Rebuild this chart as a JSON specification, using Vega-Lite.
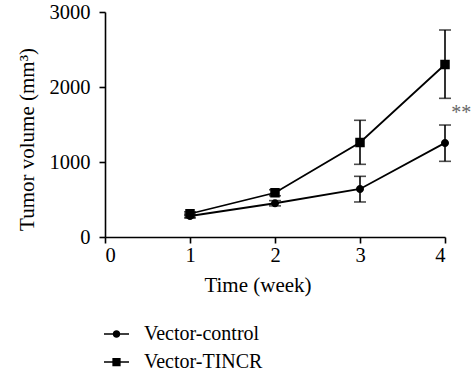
{
  "$schema": "https://vega.github.io/schema/vega-lite/v6.json",
  "width": 340,
  "height": 225,
  "autosize": {"type": "none"},
  "padding": {"left": 105, "top": 12, "right": 29, "bottom": 143},
  "background": "white",
  "datasets": {
    "tumor": [
      {"group": "Vector-control", "week": 1, "mean": 280, "lo": 255, "hi": 305},
      {"group": "Vector-control", "week": 2, "mean": 450, "lo": 415, "hi": 485},
      {"group": "Vector-control", "week": 3, "mean": 640, "lo": 467, "hi": 809},
      {"group": "Vector-control", "week": 4, "mean": 1255, "lo": 1009, "hi": 1493},
      {"group": "Vector-TINCR", "week": 1, "mean": 310, "lo": 285, "hi": 335},
      {"group": "Vector-TINCR", "week": 2, "mean": 590, "lo": 550, "hi": 630},
      {"group": "Vector-TINCR", "week": 3, "mean": 1260, "lo": 969, "hi": 1556},
      {"group": "Vector-TINCR", "week": 4, "mean": 2300, "lo": 1849, "hi": 2760}
    ],
    "sig": [{"week": 4.19, "value": 1650, "label": "**"}]
  },
  "config": {
    "view": {"stroke": null},
    "font": "Liberation Serif",
    "axis": {
      "domainColor": "black",
      "domainWidth": 1.6,
      "tickColor": "black",
      "tickWidth": 1.6,
      "tickSize": 6,
      "grid": false,
      "labelFont": "Liberation Serif",
      "labelFontSize": 20.5,
      "labelColor": "black",
      "titleFont": "Liberation Serif",
      "titleFontSize": 21,
      "titleFontWeight": "normal",
      "titleColor": "black"
    }
  },
  "resolve": {"scale": {"shape": "independent"}, "legend": {"shape": "independent"}},
  "layer": [
    {
      "data": {"name": "tumor"},
      "mark": {"type": "errorbar", "color": "black", "ticks": {"size": 12, "thickness": 1.6}, "rule": {"strokeWidth": 1.6}},
      "encoding": {
        "x": {"field": "week", "type": "quantitative",
              "scale": {"domain": [0, 4], "nice": false},
              "axis": {"values": [0, 1, 2, 3, 4], "format": "d", "labelPadding": 2,
                       "titleX": 152.5, "titleY": 54, "titleBaseline": "alphabetic", "titleAlign": "center"},
              "title": "Time (week)"},
        "y": {"field": "lo", "type": "quantitative",
              "scale": {"domain": [0, 3000], "nice": false},
              "axis": {"values": [0, 1000, 2000, 3000], "format": "d", "labelPadding": 9,
                       "titleX": -72, "titleY": 127, "titleBaseline": "alphabetic", "titleAlign": "center", "titleAngle": -90},
              "title": "Tumor volume (mm³)"},
        "y2": {"field": "hi"},
        "detail": {"field": "group"}
      }
    },
    {
      "data": {"name": "tumor"},
      "mark": {"type": "line", "color": "black", "strokeWidth": 1.8},
      "encoding": {
        "x": {"field": "week", "type": "quantitative", "title": "Time (week)"},
        "y": {"field": "mean", "type": "quantitative", "title": "Tumor volume (mm³)"},
        "detail": {"field": "group"}
      }
    },
    {
      "data": {"name": "tumor"},
      "mark": {"type": "point", "filled": true, "color": "black", "opacity": 1, "size": 625},
      "encoding": {
        "x": {"field": "week", "type": "quantitative", "title": "Time (week)"},
        "y": {"field": "mean", "type": "quantitative", "title": "Tumor volume (mm³)"},
        "shape": {
          "field": "group", "type": "nominal",
          "scale": {
            "domain": ["Vector-control", "Vector-TINCR"],
            "range": [
              "M-0.32,0A0.32,0.32,0,1,1,0.32,0A0.32,0.32,0,1,1,-0.32,0Z",
              "M-0.38,-0.38H0.38V0.38H-0.38Z"
            ]
          },
          "legend": null
        }
      }
    },
    {
      "data": {"name": "tumor"},
      "mark": {"type": "point", "filled": true, "color": "black", "opacity": 0, "size": 625},
      "encoding": {
        "x": {"field": "week", "type": "quantitative", "title": "Time (week)"},
        "y": {"field": "mean", "type": "quantitative", "title": "Tumor volume (mm³)"},
        "shape": {
          "field": "group", "type": "nominal",
          "scale": {
            "domain": ["Vector-control", "Vector-TINCR"],
            "range": [
              "M-1,-0.065H1V0.065H-1ZM-0.3,0A0.3,0.3,0,1,1,0.3,0A0.3,0.3,0,1,1,-0.3,0Z",
              "M-1,-0.065H1V0.065H-1ZM-0.33,-0.33H0.33V0.33H-0.33Z"
            ]
          },
          "legend": {
            "title": null,
            "orient": "none",
            "legendX": -1,
            "legendY": 309.5,
            "padding": 0,
            "symbolSize": 625,
            "symbolOpacity": 1,
            "symbolFillColor": "black",
            "symbolStrokeWidth": 0,
            "labelOffset": 15,
            "rowPadding": 5,
            "labelFont": "Liberation Serif",
            "labelFontSize": 20,
            "labelColor": "black",
            "labelLimit": 300,
            "encode": {
              "symbols": {
                "update": {
                  "fill": {"value": "black"},
                  "fillOpacity": {"value": 1},
                  "opacity": {"value": 1}
                }
              }
            }
          }
        }
      }
    },
    {
      "data": {"name": "sig"},
      "mark": {"type": "text", "color": "#666666", "fontSize": 20, "font": "Liberation Serif", "align": "center", "baseline": "middle"},
      "encoding": {
        "x": {"field": "week", "type": "quantitative"},
        "y": {"field": "value", "type": "quantitative"},
        "text": {"field": "label"}
      }
    }
  ]
}
